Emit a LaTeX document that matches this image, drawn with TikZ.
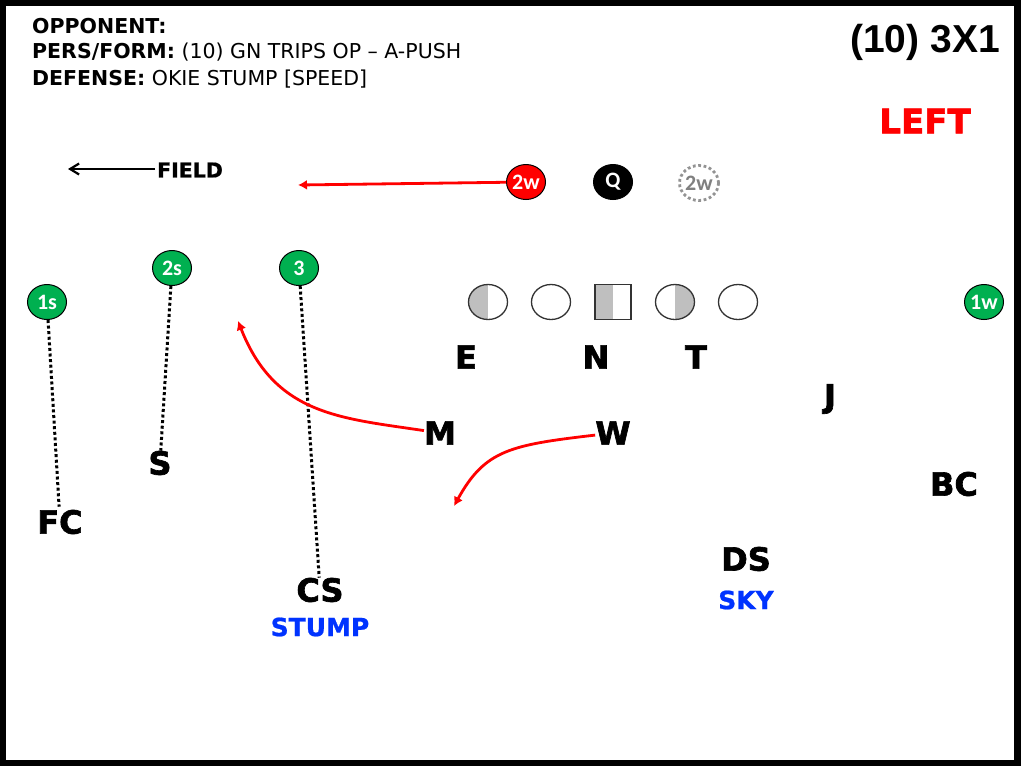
\documentclass[tikz,border=0pt]{standalone}
\usepackage{fontspec}
\setmainfont{DejaVu Sans}
\newfontfamily\calfont{Carlito}
\newfontfamily\heavyfont[FakeBold=2]{DejaVu Sans Bold}
\newfontfamily\midfont[FakeBold=0.8]{DejaVu Sans Bold}
\newfontfamily\arialfont{Liberation Sans}
\usetikzlibrary{shapes.geometric,arrows.meta}
\definecolor{grn}{HTML}{00B050}
\definecolor{blu}{HTML}{0033FF}
\tikzset{
 x=1pt,y=-1pt,
 skill/.style={ellipse,draw=black,line width=1pt,fill=grn,minimum width=39pt,minimum height=35pt,inner sep=0pt,font=\calfont\bfseries\fontsize{22}{22}\selectfont,text=white},
 lbl/.style={font=\heavyfont\fontsize{32}{32}\selectfont,text=black,inner sep=0pt},
 call/.style={font=\midfont\fontsize{25}{25}\selectfont,text=blu,inner sep=0pt},
 route/.style={red,line width=2.8pt,-{Latex[length=9pt,width=10pt]}},
 dots/.style={black,line width=3pt,dash pattern=on 3pt off 2.6pt},
 oline/.style={draw=black!80,line width=1.3pt},
 hdr/.style={anchor=base west,inner sep=0pt,font=\fontsize{20.5}{20.5}\selectfont},
}
\begin{document}
\begin{tikzpicture}
\useasboundingbox (0,0) rectangle (1024,766);
\fill[white] (0,0) rectangle (1024,766);
\draw[black,line width=6.5pt] (3,3) rectangle (1017.5,763);
\node[hdr] (h1) at (32,33) {\textbf{OPPONENT:}};
\node[hdr] (h2) at (32,58) {\textbf{PERS/FORM:} (10) GN TRIPS OP – A-PUSH};
\node[hdr] (h3) at (32,85) {\textbf{DEFENSE:} OKIE STUMP [SPEED]};
\node[anchor=base east,inner sep=0pt,font=\arialfont\bfseries\fontsize{39}{39}\selectfont] (form) at (1000,52) {(10) 3X1};
\node[font=\heavyfont\fontsize{34}{34}\selectfont,text=red,inner sep=0pt] (left) at (925,121) {LEFT};
\node[font=\midfont\fontsize{20.5}{20.5}\selectfont,anchor=west,inner sep=0pt] (field) at (157,170) {FIELD};
\coordinate (fieldtip) at (68,169);
\draw[black,line width=2.2pt,-{Straight Barb[length=9pt,width=11pt]}] (field.west) ++(-2,-1) -- (fieldtip);
% backfield
\node[skill,fill=red] (w2) at (526,182) {2w};
\node[skill,fill=black] (q) at (613,182) {Q};
\node[skill,fill=white,draw=gray!85,dash pattern=on 2.8pt off 2.6pt,line width=2.8pt,text=gray] (w2g) at (699,183) {2w};
\coordinate (wtip) at (298,185);
\draw[route] (w2) -- (wtip);
% O-line
\begin{scope}
\clip (488,302) ellipse[x radius=19.5,y radius=17.5];
\fill[gray!50] (468,284) rectangle (488,320);
\end{scope}
\fill[gray!50] (595,284.5) rectangle (613,319.5);
\begin{scope}
\clip (675,302) ellipse[x radius=19.5,y radius=17.5];
\fill[gray!50] (675,284) rectangle (695,320);
\end{scope}
\node[ellipse,oline,minimum width=39pt,minimum height=35pt,inner sep=0pt] (e1) at (488,302) {};
\node[ellipse,oline,minimum width=39pt,minimum height=35pt,inner sep=0pt] (e2) at (551,302) {};
\node[rectangle,oline,minimum width=36pt,minimum height=35pt,inner sep=0pt] (e3) at (613,302) {};
\node[ellipse,oline,minimum width=39pt,minimum height=35pt,inner sep=0pt] (e4) at (675,302) {};
\node[ellipse,oline,minimum width=39pt,minimum height=35pt,inner sep=0pt] (e5) at (738,302) {};
% receivers
\node[skill] (s1) at (47,302) {1s};
\node[skill] (s2) at (172,268) {2s};
\node[skill] (r3) at (299,268) {3};
\node[skill] (w1) at (984,302) {1w};
% defenders
\node[lbl] (fc) at (60,522) {FC};
\node[lbl] (ss) at (160,463) {S};
\node[lbl] (cs) at (320,590) {CS};
\node[call] (stump) at (320,627) {STUMP};
\node[lbl] (e) at (466,357) {E};
\node[lbl] (n) at (596,357) {N};
\node[lbl] (t) at (696,357) {T};
\node[lbl] (j) at (830,399) {J};
\node[lbl] (m) at (440,433) {M};
\node[lbl] (ww) at (613,433) {W};
\node[lbl] (bc) at (954,484) {BC};
\node[lbl] (ds) at (746,559) {DS};
\node[call] (sky) at (746,600) {SKY};
% coverage
\draw[dots,shorten >=3pt] (s1) -- (fc);
\draw[dots] (s2) -- (ss);
\draw[dots] (r3) -- (cs);
% movement
\coordinate (mtip) at (238,321);
\coordinate (wwtip) at (454,506);
\draw[route] (m) .. controls (340,418) and (275,415) .. (mtip);
\draw[route] (ww) .. controls (510,445) and (485,450) .. (wwtip);
\end{tikzpicture}
\end{document}
